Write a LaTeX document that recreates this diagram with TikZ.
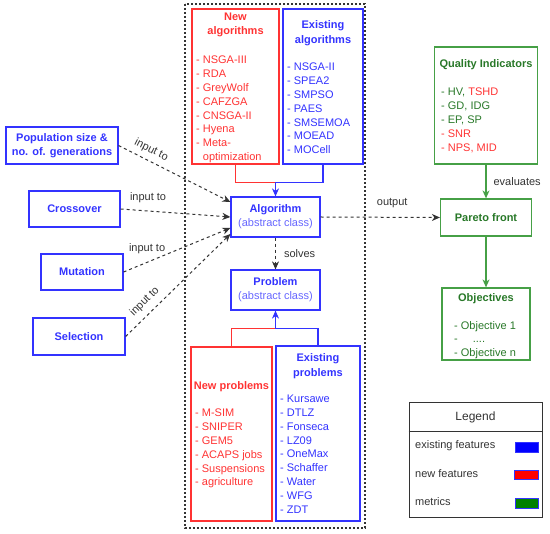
\documentclass[tikz,border=0pt]{standalone}
\usepackage{fontspec}
\setmainfont{Liberation Sans}
\setsansfont{Liberation Sans}
\usetikzlibrary{arrows.meta,positioning}
\definecolor{fblue}{RGB}{51,51,255}
\definecolor{flightblue}{RGB}{102,102,255}
\definecolor{fred}{RGB}{255,51,51}
\definecolor{fgreen}{RGB}{70,160,70}
\definecolor{fdkgreen}{RGB}{40,120,40}
\definecolor{fgray}{RGB}{51,51,51}

\begin{document}
\begin{tikzpicture}[x=1pt, y=-1pt,
  every node/.style={font=\fontsize{11}{13.8}\selectfont, inner sep=0pt},
  boxline/.style={draw, line width=1.2pt},
  bluebox/.style={boxline, draw=fblue, text=fblue},
  redbox/.style={boxline, draw=fred, text=fred},
  greenbox/.style={boxline, draw=fgreen, text=fdkgreen},
  boxtitle/.style={font=\fontsize{11}{14.5}\selectfont\bfseries, align=center},
  listing/.style={align=left, anchor=north west},
  tip/.style={-{Stealth[length=8pt, width=7pt, inset=2.5pt]}},
  input/.style={tip, draw=fgray, line width=1pt, dash pattern=on 3pt off 3pt},
  feed/.style={line width=1.2pt},
  edgelabel/.style={text=fgray}
]
\useasboundingbox (0,0) rectangle (550,534);
% Framework frame
\draw[fgray, line width=1.2pt, dash pattern=on 2pt off 2pt] (185,4) rectangle (365,528);

% Algorithm boxes
\node[redbox, minimum width=87, minimum height=155] (newalg) at (235.5,86.5) {};
\node[boxtitle, text=fred, below=4pt of newalg.north] (newalgtitle) {New\\algorithms};
\node[listing, text=fred] (newalglist) at (196,56) {- NSGA-III\\- RDA\\- GreyWolf\\- CAFZGA\\- CNSGA-II\\- Hyena\\- Meta-\\\phantom{- }optimization};
\node[bluebox, minimum width=80, minimum height=155] (exalg) at (323,86.5) {};
\node[boxtitle, text=fblue, below=12pt of exalg.north] (exalgtitle) {Existing\\algorithms};
\node[listing, text=fblue] (exalglist) at (287,63) {- NSGA-II\\- SPEA2\\- SMPSO\\- PAES\\- SMSEMOA\\- MOEAD\\- MOCell};

% Abstract classes
\node[bluebox, minimum width=89, minimum height=40, align=center] (alg) at (275.5,217) {\textbf{Algorithm}\\\textcolor{flightblue}{(abstract class)}};
\node[bluebox, minimum width=89, minimum height=40, align=center] (prob) at (275.5,290) {\textbf{Problem}\\\textcolor{flightblue}{(abstract class)}};

% Problem boxes
\node[redbox, minimum width=81, minimum height=174] (newprob) at (231.5,434) {};
\node[boxtitle, text=fred] (newprobtitle) at (231.5,387) {New problems};
\node[listing, text=fred] (newproblist) at (195,409) {- M-SIM\\- SNIPER\\- GEM5\\- ACAPS jobs\\- Suspensions\\- agriculture};
\node[bluebox, minimum width=84, minimum height=175] (exprob) at (318,433.5) {};
\node[boxtitle, text=fblue, below=8pt of exprob.north] (exprobtitle) {Existing\\problems};
\node[listing, text=fblue] (exproblist) at (280,395) {- Kursawe\\- DTLZ\\- Fonseca\\- LZ09\\- OneMax\\- Schaffer\\- Water\\- WFG\\- ZDT};

% Operator boxes
\node[bluebox, minimum width=112, minimum height=37, align=center, font=\fontsize{11}{13.8}\selectfont\bfseries] (popsize) at (62,145.5) {Population size \&\\no. of. generations};
\node[bluebox, minimum width=91, minimum height=36, font=\fontsize{11}{13.8}\selectfont\bfseries] (crossover) at (74.5,209) {Crossover};
\node[bluebox, minimum width=82, minimum height=36, font=\fontsize{11}{13.8}\selectfont\bfseries] (mutation) at (82,272) {Mutation};
\node[bluebox, minimum width=92, minimum height=37, font=\fontsize{11}{13.8}\selectfont\bfseries] (selection) at (79,336.5) {Selection};

% Metrics boxes
\node[greenbox, minimum width=103, minimum height=117] (qi) at (486,105.5) {};
\node[boxtitle, text=fdkgreen, below=13pt of qi.north] (qititle) {Quality Indicators};
\node[listing, text=fdkgreen] (qilist) at (441,88) {- HV, \textcolor{fred}{TSHD}\\- GD, IDG\\- EP, SP\\\textcolor{fred}{- SNR}\\\textcolor{fred}{- NPS, MID}};
\node[greenbox, minimum width=91, minimum height=37, font=\fontsize{11}{13.8}\selectfont\bfseries] (pareto) at (486,217.5) {Pareto front};
\node[greenbox, minimum width=88, minimum height=72] (obj) at (486,324) {};
\node[boxtitle, text=fdkgreen, below=6pt of obj.north] (objtitle) {Objectives};
\node[listing, text=fdkgreen] (objlist) at (454,321) {- Objective 1\\-\hspace{15pt}....\\- Objective n};

% Feeding lines
\coordinate (algin) at ([yshift=14pt]alg.north);
\coordinate (probin) at ([yshift=-18pt]prob.south);
\draw[feed, fred] (newalg.south) |- (algin);
\draw[feed, fblue] (exalg.south) |- (algin);
\draw[feed, fblue, tip] (algin) -- (alg.north);
\draw[feed, fred] (newprob.north) |- (probin);
\draw[feed, fblue] (exprob.north) |- (probin);
\draw[feed, fblue, tip] (probin) -- (prob.south);

% Inputs and outputs
\draw[input] (popsize.east) -- ([yshift=15pt]alg.west) node[edgelabel, pos=0.25, above=5pt, sloped] {input to};
\draw[input] (crossover.east) -- (alg.west) node[edgelabel, pos=0.25, above=8pt] {input to};
\draw[input] (mutation.east) -- ([yshift=-11pt]alg.west) node[edgelabel, pos=0.22, above=8pt] {input to};
\draw[input] (selection.east) -- ([yshift=-17pt]alg.west) node[edgelabel, pos=0.26, above=6pt, sloped] {input to};
\draw[input] (alg.south) -- (prob.north) node[edgelabel, midway, right=8pt] {solves};
\draw[input] (alg.east) -- (pareto.west) node[edgelabel, pos=0.6, above=9pt] {output};
\draw[feed, fgreen, tip] (qi.south) -- (pareto.north) node[edgelabel, midway, right=7pt] {evaluates};
\draw[feed, fgreen, tip] (pareto.south) -- (obj.north);

% Legend
\node[draw=fgray, line width=1pt, minimum width=133, minimum height=115] (legend) at (475.5,460.5) {};
\draw[fgray, line width=1pt] (legend.west |- 0,432) -- (legend.east |- 0,432);
\node[text=fgray, font=\fontsize{12}{14}\selectfont] (legendtitle) at (475.5,417) {Legend};
\node[text=fgray, anchor=west] (lgexist) at (415,446) {existing features};
\node[text=fgray, anchor=west] (lgnew) at (415,474) {new features};
\node[text=fgray, anchor=west] (lgmetric) at (415,502) {metrics};
\node[fill=blue, draw=fblue, minimum width=23, minimum height=10] (swblue) at (526.5,447) {};
\node[fill=red, draw=fblue, minimum width=24, minimum height=9] (swred) at (526,474.5) {};
\node[fill=green!50!black, draw=fblue, minimum width=23, minimum height=10] (swgreen) at (526.5,503) {};
\end{tikzpicture}
\end{document}
